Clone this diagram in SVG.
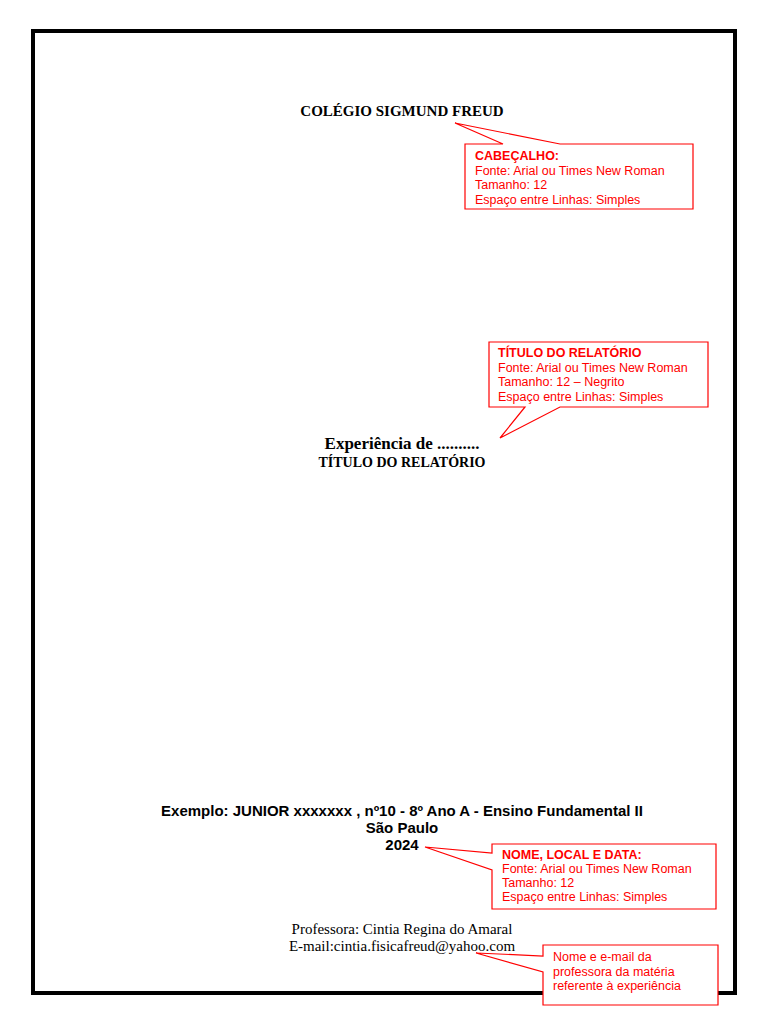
<svg xmlns="http://www.w3.org/2000/svg" width="768" height="1024" viewBox="0 0 768 1024">
<style>
.t{font-family:"Liberation Serif",serif;fill:#000}
.b{font-family:"Liberation Sans",sans-serif;font-weight:bold;fill:#000;font-size:15px}
.c{fill:#fff;stroke:#f00;stroke-width:1.2}
.r{font-family:"Liberation Sans",sans-serif;fill:#f00;font-size:12.5px}
.rb{font-weight:bold}
</style>
<rect x="0" y="0" width="768" height="1024" fill="#fff"/>
<rect x="33" y="31" width="702" height="962" fill="none" stroke="#000" stroke-width="4"/>
<g id="cabecalho-text"><text class="t" x="402" y="116" font-size="15" font-weight="bold" text-anchor="middle">COLÉGIO SIGMUND FREUD</text></g>
<g id="titulo-text">
<text class="t" x="402" y="449" font-size="17" font-weight="bold" text-anchor="middle">Experiência de ..........</text>
<text class="t" x="402" y="467" font-size="14" font-weight="bold" text-anchor="middle">TÍTULO DO RELATÓRIO</text>
</g>
<g id="nome-text">
<text class="b" x="402" y="816" text-anchor="middle">Exemplo: JUNIOR xxxxxxx , nº10  - 8º Ano A - Ensino Fundamental II</text>
<text class="b" x="402" y="833" text-anchor="middle">São Paulo</text>
<text class="b" x="402" y="850" text-anchor="middle">2024</text>
</g>
<g id="professora-text">
<text class="t" x="402" y="934" font-size="15" text-anchor="middle">Professora: Cintia Regina do Amaral</text>
<text class="t" x="402" y="951" font-size="15" text-anchor="middle">E-mail:cintia.fisicafreud@yahoo.com</text>
</g>
<g id="connectors"></g>
<g id="callout-cabecalho">
<path class="c" d="M465,144 H503 L455,123 L560,144 H693 V209 H465 Z"/>
<text class="r" x="475" y="160"><tspan class="rb">CABEÇALHO:</tspan><tspan x="475" dy="14.5">Fonte: Arial ou Times New Roman</tspan><tspan x="475" dy="14.5">Tamanho: 12</tspan><tspan x="475" dy="14.5">Espaço entre Linhas: Simples</tspan></text>
</g>
<g id="callout-titulo">
<path class="c" d="M489,342 H708 V407 H560 L500,438 L525,407 H489 Z"/>
<text class="r" x="498" y="357"><tspan class="rb">TÍTULO DO RELATÓRIO</tspan><tspan x="498" dy="14.5">Fonte: Arial ou Times New Roman</tspan><tspan x="498" dy="14.5">Tamanho: 12 – Negrito</tspan><tspan x="498" dy="14.5">Espaço entre Linhas: Simples</tspan></text>
</g>
<g id="callout-nome">
<path class="c" d="M492,844 H716 V909 H492 V870 L425,847 L492,853 Z"/>
<text class="r" x="502" y="859"><tspan class="rb">NOME, LOCAL E DATA:</tspan><tspan x="502" dy="14">Fonte: Arial ou Times New Roman</tspan><tspan x="502" dy="14">Tamanho: 12</tspan><tspan x="502" dy="14">Espaço entre Linhas: Simples</tspan></text>
</g>
<g id="callout-professora">
<path class="c" d="M543,945 H718 V1005 H543 V972 L476,953 L543,956 Z"/>
<text class="r" x="553" y="961"><tspan>Nome e e-mail da</tspan><tspan x="553" dy="14.5">professora da matéria</tspan><tspan x="553" dy="14.5">referente à experiência</tspan></text>
</g>
</svg>
